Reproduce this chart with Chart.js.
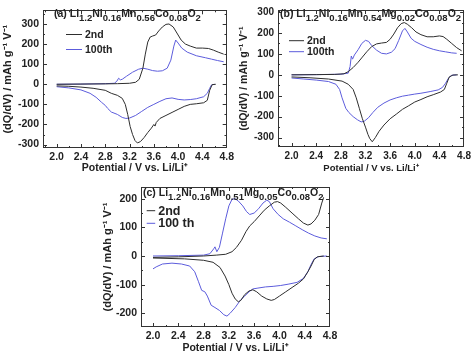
<!DOCTYPE html>
<html>
<head>
<meta charset="utf-8">
<script src="https://cdn.jsdelivr.net/npm/chart.js@4.4.1/dist/chart.umd.min.js"></script>
<style>
  body { margin: 0; background: #fff; width: 474px; height: 351px; position: relative; overflow: hidden; }
  canvas { position: absolute; }
</style>
</head>
<body>
<canvas id="pa"></canvas>
<canvas id="pb"></canvas>
<canvas id="pc"></canvas>
<script>
/* eslint-disable no-undef */

// tick labels
const xTicks = [2.0, 2.4, 2.8, 3.2, 3.6, 4.0, 4.4, 4.8]
const yTicksAB = [-300, -200, -100, 0, 100, 200, 300]
const yTicksC = [-200, -100, 0, 100, 200]

const xTitle = 'Potential / V vs. Li/Li\u207A'
const yTitle = '(dQ/dV) / mAh g\u207B\u00B9 V\u207B\u00B9'
const titleA = '(a) Li1.2Ni0.16Mn0.56Co0.08O2'
const titleB = '(b) Li1.2Ni0.16Mn0.54Mg0.02Co0.08O2'
const titleC = '(c) Li1.2Ni0.16Mn0.51Mg0.05Co0.08O2'
const seriesAB = ['2nd', '100th']
const seriesC = ['2nd', '100 th']

// (a) [potential V, dQ/dV]
const a2ndCharge = [[2.0, 0], [2.4, 1], [2.8, 2], [3.0, 3], [3.2, 5], [3.3, 10], [3.36, 25], [3.42, 80], [3.46, 150], [3.5, 210], [3.54, 235], [3.58, 240], [3.63, 245], [3.68, 265], [3.74, 285], [3.8, 298], [3.85, 300], [3.92, 285], [3.98, 255], [4.05, 220], [4.12, 200], [4.2, 190], [4.3, 180], [4.4, 180], [4.5, 178], [4.58, 170], [4.66, 160], [4.75, 150]]
const a2ndDischarge = [[4.62, 0], [4.56, -2], [4.52, -30], [4.48, -80], [4.42, -92], [4.3, -97], [4.2, -100], [4.1, -110], [4.0, -125], [3.9, -140], [3.8, -155], [3.7, -170], [3.64, -190], [3.62, -208], [3.6, -200], [3.56, -218], [3.5, -240], [3.44, -265], [3.38, -285], [3.33, -292], [3.29, -280], [3.25, -250], [3.21, -210], [3.17, -150], [3.13, -100], [3.08, -70], [3.0, -55], [2.9, -45], [2.8, -30], [2.6, -20], [2.4, -14], [2.2, -10], [2.0, -8]]
const a100Charge = [[2.0, 0], [2.4, 1], [2.8, 3], [2.95, 5], [2.99, 15], [3.02, 30], [3.05, 22], [3.08, 25], [3.15, 40], [3.25, 60], [3.35, 75], [3.42, 80], [3.5, 75], [3.58, 68], [3.66, 65], [3.74, 67], [3.82, 80], [3.88, 120], [3.93, 190], [3.96, 220], [4.0, 205], [4.06, 180], [4.15, 160], [4.3, 142], [4.45, 132], [4.55, 125], [4.65, 118], [4.75, 112]]
const a100Discharge = [[4.6, 0], [4.55, -3], [4.52, -20], [4.48, -45], [4.42, -62], [4.3, -72], [4.2, -76], [4.1, -78], [4.0, -75], [3.9, -68], [3.8, -72], [3.7, -85], [3.6, -100], [3.5, -115], [3.4, -135], [3.3, -155], [3.2, -168], [3.14, -170], [3.08, -165], [3.0, -150], [2.9, -138], [2.84, -120], [2.8, -105], [2.74, -90], [2.65, -65], [2.55, -45], [2.4, -28], [2.2, -18], [2.0, -12]]

// (b)
const b2ndCharge = [[2.0, 0], [2.4, 1], [2.7, 2], [2.85, 5], [2.92, 15], [3.0, 35], [3.08, 60], [3.15, 85], [3.22, 110], [3.3, 135], [3.38, 148], [3.46, 152], [3.54, 155], [3.6, 170], [3.66, 195], [3.72, 225], [3.78, 245], [3.83, 250], [3.88, 242], [3.95, 225], [4.02, 205], [4.1, 192], [4.2, 182], [4.3, 182], [4.4, 186], [4.46, 183], [4.52, 170], [4.6, 150], [4.68, 130], [4.76, 115]]
const b2ndDischarge = [[4.7, 0], [4.62, -1], [4.56, -10], [4.52, -40], [4.48, -70], [4.42, -82], [4.3, -95], [4.2, -105], [4.1, -118], [4.0, -130], [3.9, -148], [3.8, -165], [3.7, -188], [3.6, -210], [3.5, -240], [3.42, -270], [3.36, -300], [3.31, -320], [3.27, -305], [3.24, -285], [3.2, -250], [3.15, -210], [3.1, -160], [3.05, -110], [3.0, -70], [2.92, -45], [2.82, -30], [2.6, -20], [2.3, -14], [2.0, -10]]
const b100Charge = [[2.0, 0], [2.4, 1], [2.8, 3], [2.92, 8], [2.95, 40], [2.97, 90], [2.99, 75], [3.02, 95], [3.08, 120], [3.14, 150], [3.2, 165], [3.25, 160], [3.3, 140], [3.38, 118], [3.46, 103], [3.54, 100], [3.62, 108], [3.68, 125], [3.74, 165], [3.8, 210], [3.84, 222], [3.88, 205], [3.94, 175], [4.0, 160], [4.1, 145], [4.2, 132], [4.3, 122], [4.4, 115], [4.5, 110], [4.6, 105], [4.68, 103]]
const b100Discharge = [[4.68, 0], [4.6, -2], [4.55, -15], [4.5, -40], [4.45, -60], [4.38, -72], [4.25, -80], [4.1, -88], [4.0, -92], [3.9, -97], [3.8, -102], [3.7, -110], [3.6, -120], [3.5, -135], [3.4, -155], [3.32, -180], [3.25, -205], [3.18, -222], [3.13, -225], [3.07, -215], [3.0, -200], [2.93, -180], [2.88, -160], [2.85, -135], [2.82, -110], [2.78, -70], [2.72, -45], [2.6, -32], [2.4, -25], [2.2, -20], [2.0, -15]]

// (c)
const c2ndCharge = [[2.0, -5], [2.4, -3], [2.8, 0], [3.0, 3], [3.15, 6], [3.25, 15], [3.32, 30], [3.4, 55], [3.47, 85], [3.53, 105], [3.6, 120], [3.68, 140], [3.76, 160], [3.84, 175], [3.92, 188], [3.97, 190], [4.02, 185], [4.1, 170], [4.2, 150], [4.3, 130], [4.38, 115], [4.45, 108], [4.5, 112], [4.56, 125], [4.62, 145], [4.67, 185], [4.7, 205]]
const c2ndDischarge = [[4.7, 0], [4.6, -3], [4.55, -12], [4.5, -35], [4.45, -55], [4.38, -80], [4.3, -95], [4.2, -110], [4.1, -125], [4.0, -140], [3.92, -152], [3.87, -155], [3.8, -150], [3.72, -140], [3.64, -125], [3.58, -118], [3.52, -122], [3.45, -135], [3.39, -155], [3.35, -160], [3.3, -150], [3.25, -130], [3.2, -100], [3.14, -70], [3.06, -40], [2.95, -22], [2.8, -15], [2.5, -10], [2.0, -7]]
const c100Charge = [[2.0, 0], [2.4, 1], [2.8, 3], [2.9, 8], [2.96, 25], [2.98, 32], [3.01, 15], [3.05, 30], [3.1, 80], [3.15, 130], [3.2, 175], [3.25, 198], [3.3, 200], [3.35, 192], [3.42, 175], [3.48, 155], [3.53, 145], [3.6, 150], [3.67, 165], [3.74, 185], [3.8, 195], [3.84, 190], [3.9, 165], [3.98, 145], [4.06, 130], [4.16, 118], [4.26, 105], [4.36, 92], [4.46, 80], [4.56, 70], [4.66, 63], [4.75, 60]]
const c100Discharge = [[4.75, 0], [4.62, -2], [4.55, -10], [4.5, -30], [4.45, -55], [4.38, -78], [4.28, -92], [4.15, -98], [4.02, -103], [3.9, -106], [3.78, -108], [3.66, -112], [3.58, -115], [3.52, -125], [3.45, -140], [3.38, -155], [3.3, -180], [3.22, -200], [3.17, -210], [3.12, -205], [3.05, -190], [2.98, -180], [2.92, -172], [2.86, -140], [2.82, -125], [2.77, -120], [2.72, -90], [2.66, -55], [2.58, -35], [2.45, -28], [2.3, -25], [2.15, -28], [2.05, -38], [2.0, -45]]

const family = "'Liberation Sans', Arial, sans-serif"
const ink = '#222'
const black = '#2e2e2e'
const blue = '#5c5cdc'

const panels = [
  {
    id: 'pa', box: [0, 0, 237, 175], padding: { top: 2, right: 6 }, yWidth: 43, xHeight: 27,
    x: [1.775, 4.8], y: [-317, 368], yTicks: yTicksAB, tickSize: 10.5, yTitleSize: 11, xTitleSize: 10.5,
    formula: titleA, formulaAt: [54, 17], formulaSize: [10.5, 9.5],
    series: seriesAB, legendAt: [66, 34.5], legendLine: 16, legendGap: 15, legendSize: 10.5,
    curves: [[a2ndCharge, a2ndDischarge], [a100Charge, a100Discharge]]
  },
  {
    id: 'pb', box: [237, 0, 237, 175], padding: { top: 3, right: 4 }, yWidth: 41, xHeight: 28,
    x: [1.78, 4.8], y: [-345, 310], yTicks: yTicksAB, tickSize: 10, yTitleSize: 10.5, xTitleSize: 9.5,
    formula: titleB, formulaAt: [43, 17], formulaSize: [10.5, 9.5],
    series: seriesAB, legendAt: [52, 40.7], legendLine: 15, legendGap: 11, legendSize: 10.5,
    curves: [[b2ndCharge, b2ndDischarge], [b100Charge, b100Discharge]]
  },
  {
    id: 'pc', box: [100, 175, 280, 180], padding: { top: 12, right: 50 }, yWidth: 41, xHeight: 28,
    x: [1.81, 4.8], y: [-248, 241], yTicks: yTicksC, tickSize: 10.5, yTitleSize: 11, xTitleSize: 10.5,
    formula: titleC, formulaAt: [43, 21], formulaSize: [10.5, 9.5],
    series: seriesC, legendAt: [46.7, 35.7], legendLine: 8.5, legendGap: 12.6, legendSize: 12.5,
    curves: [[c2ndCharge, c2ndDischarge], [c100Charge, c100Discharge]]
  }
]

const colors = [black, blue]

const frame = {
  id: 'frame',
  afterDatasetsDraw (chart, args, opts) {
    const { ctx, chartArea: { left, right, top, bottom }, scales: { x, y } } = chart
    ctx.save()
    ctx.strokeStyle = '#333'
    ctx.lineWidth = 1
    ctx.strokeRect(Math.round(left) + 0.5, Math.round(top) + 0.5, Math.round(right - left) - 1, Math.round(bottom - top) - 1)
    ctx.beginPath()
    const xs = []
    xTicks.forEach(v => { xs.push([v, 4]); xs.push([v - 0.2, 2]) })
    xs.filter(([v]) => v > x.min && v < x.max).forEach(([v, len]) => {
      const px = Math.round(x.getPixelForValue(v)) + 0.5
      ctx.moveTo(px, bottom); ctx.lineTo(px, bottom - len)
      ctx.moveTo(px, top); ctx.lineTo(px, top + len)
    })
    const ys = []
    opts.yTicks.forEach(v => { ys.push([v, 4]); ys.push([v + 50, 2]); ys.push([v - 50, 2]) })
    ys.filter(([v]) => v > y.min && v < y.max).forEach(([v, len]) => {
      const py = Math.round(y.getPixelForValue(v)) + 0.5
      ctx.moveTo(left, py); ctx.lineTo(left + len, py)
      ctx.moveTo(right, py); ctx.lineTo(right - len, py)
    })
    ctx.stroke()
    ctx.restore()
  },
  afterDraw (chart, args, opts) {
    const { ctx } = chart
    ctx.save()
    ctx.fillStyle = ink
    ctx.textBaseline = 'alphabetic'
    // formula title with subscripts
    let [tx, ty] = opts.formulaAt
    opts.formula.split(/(\d[\d.]*)/).forEach((part, i) => {
      if (!part) return
      const sub = i % 2 === 1
      ctx.font = `bold ${sub ? opts.formulaSize[1] : opts.formulaSize[0]}px ${family}`
      ctx.fillText(part, tx, sub ? ty + 4 : ty)
      tx += ctx.measureText(part).width
    })
    // legend
    const [lx, ly] = opts.legendAt
    ctx.font = `bold ${opts.legendSize}px ${family}`
    ctx.textBaseline = 'middle'
    opts.series.forEach((label, i) => {
      const yy = ly + i * opts.legendGap
      ctx.strokeStyle = colors[i]
      ctx.lineWidth = 1
      ctx.beginPath()
      ctx.moveTo(lx, yy)
      ctx.lineTo(lx + opts.legendLine, yy)
      ctx.stroke()
      ctx.fillText(label, lx + opts.legendLine + 3, yy + 0.5)
    })
    ctx.restore()
  }
}

panels.forEach(p => {
  const canvas = document.getElementById(p.id)
  const [left, top, width, height] = p.box
  canvas.width = width
  canvas.height = height
  canvas.style.left = left + 'px'
  canvas.style.top = top + 'px'
  const datasets = []
  p.curves.forEach((pair, i) => {
    pair.forEach(curve => {
      datasets.push({
        label: p.series[i],
        data: curve.map(([v, q]) => ({ x: v, y: q })),
        borderColor: colors[i],
        borderWidth: 1,
        pointRadius: 0,
        tension: 0,
        fill: false
      })
    })
  })
  new Chart(canvas, {
    type: 'line',
    data: { datasets },
    options: {
      responsive: false,
      animation: false,
      events: [],
      layout: { padding: { left: 0, bottom: 0, top: p.padding.top, right: p.padding.right } },
      plugins: {
        legend: { display: false },
        tooltip: { enabled: false },
        frame: { yTicks: p.yTicks, formula: p.formula, formulaAt: p.formulaAt, formulaSize: p.formulaSize, series: p.series, legendAt: p.legendAt, legendLine: p.legendLine, legendGap: p.legendGap, legendSize: p.legendSize }
      },
      scales: {
        x: {
          type: 'linear',
          min: p.x[0],
          max: p.x[1],
          grid: { display: false, drawTicks: false },
          border: { display: false },
          afterBuildTicks: s => { s.ticks = xTicks.map(value => ({ value })) },
          afterFit: s => { s.height = p.xHeight },
          ticks: { color: ink, padding: 3, maxRotation: 0, autoSkip: false, font: { family, size: p.tickSize, weight: 'bold' }, callback: v => v.toFixed(1) },
          title: { display: true, text: xTitle, color: ink, padding: { top: 0, bottom: 1 }, font: { family, size: p.xTitleSize, weight: 'bold' } }
        },
        y: {
          type: 'linear',
          min: p.y[0],
          max: p.y[1],
          grid: { display: false, drawTicks: false },
          border: { display: false },
          afterBuildTicks: s => { s.ticks = p.yTicks.map(value => ({ value })) },
          afterFit: s => { s.width = p.yWidth },
          ticks: { color: ink, padding: 4, autoSkip: false, font: { family, size: p.tickSize, weight: 'bold' }, callback: v => String(v) },
          title: { display: true, text: yTitle, color: ink, padding: { top: 1, bottom: 0 }, font: { family, size: p.yTitleSize, weight: 'bold' } }
        }
      }
    },
    plugins: [frame]
  })
})
</script>
</body>
</html>
